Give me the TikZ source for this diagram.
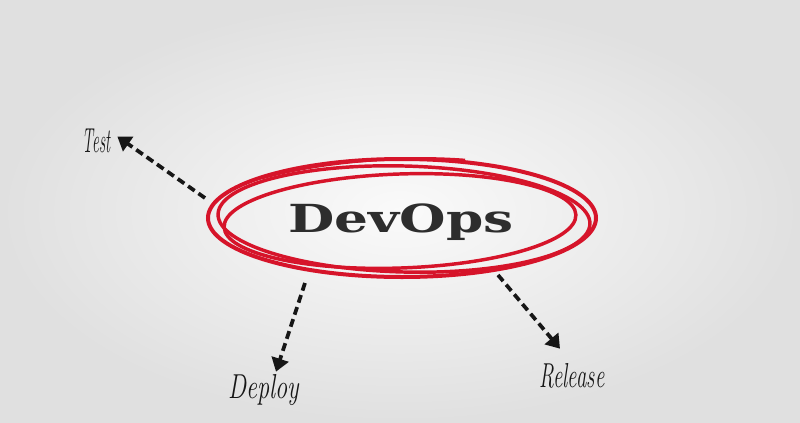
\documentclass[tikz,border=0pt]{standalone}
\usepackage{fontspec}
\usetikzlibrary{arrows.meta}
\newfontfamily\slabfont{DejaVu Serif}
\newcommand{\squeeze}[2]{\scalebox{#1}[1]{#2}}
\definecolor{bgin}{RGB}{250,250,250}
\definecolor{bgout}{RGB}{224,224,224}
\definecolor{redline}{RGB}{214,20,42}
\definecolor{ink}{RGB}{22,22,22}

\begin{document}
\begin{tikzpicture}[x=0.75pt,y=0.75pt,yscale=-1,xscale=1,
  flow/.style={draw=ink, line width=2.8pt, dash pattern=on 6pt off 3.5pt, -{Triangle[width=13pt,length=10pt]}},
  scribble/.style={draw=redline, line width=2.6pt},
  tag/.style={font=\fontsize{26}{28}\selectfont\itshape, text=ink, inner sep=0pt, anchor=base}]
\useasboundingbox (0,0) rectangle (800,422);

%Background
\shade [inner color=bgin, outer color=bgout] (0,0) rectangle (800,422);

%Shape: red loops round the title
\draw [scribble, line width=3pt] (402,218) ellipse [x radius=194, y radius=59];
\draw [scribble] (400,221) [rotate around={-2:(400,221)}] ellipse [x radius=176, y radius=47];
\draw [scribble] (404,219) [rotate around={1.5:(404,219)}] ellipse [x radius=186, y radius=53];
\draw [scribble, line width=2pt] (262,178) .. controls (320,162) and (400,155) .. (465,160);

% Text Node
\node [font=\slabfont\bfseries\fontsize{29}{30}\selectfont, text=ink!90] (devops) at (401,222) {\squeeze{1.38}{DevOps}};

% Text Node
\node [tag] (test) at (97,152) {\squeeze{0.45}{Test}};
% Text Node
\node [tag] (deploy) at (264,398) {\squeeze{0.7}{Deploy}};
% Text Node
\node [tag] (release) at (572,387) {\squeeze{0.6}{Release}};

%Straight Lines: free ends at the loops
\coordinate (tstart) at (205,198);
\coordinate (dstart) at (305,283);
\coordinate (rstart) at (498,275);

\draw [flow] (tstart) -- ([shift={(6,-4)}]test.east);
\draw [flow] (dstart) -- ([shift={(12,-2)}]deploy.north);
\draw [flow] (rstart) -- ([shift={(-12,-14)}]release.north);

\end{tikzpicture}
\end{document}
